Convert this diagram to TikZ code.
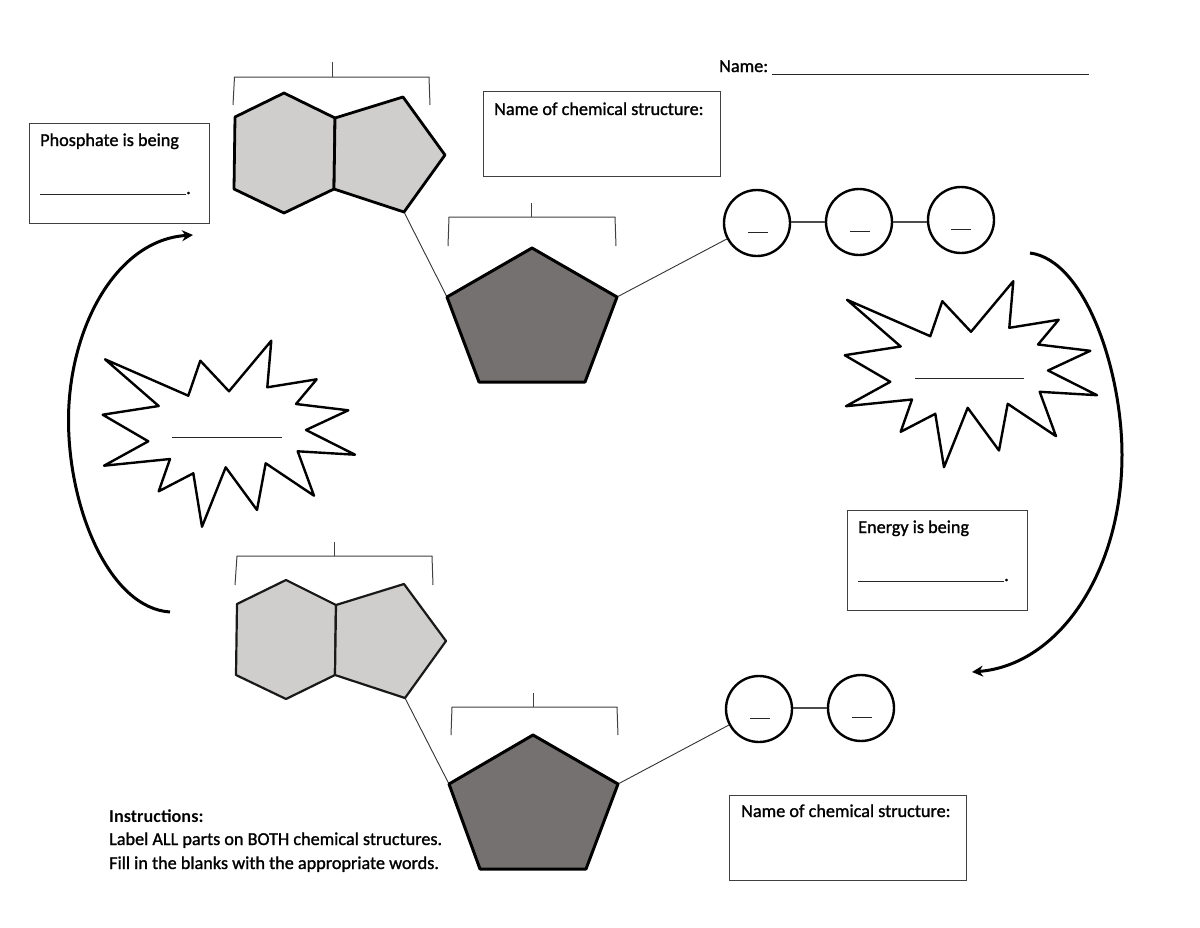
\documentclass[tikz,border=0pt]{standalone}
\usepackage{fontspec}
\setmainfont{Carlito}
\newfontface\semib{Carlito}[FakeBold=1.2]
\newfontface\instrb{Carlito Bold}
\definecolor{lightpart}{HTML}{CFCECC}
\definecolor{darkpart}{HTML}{767171}
\definecolor{rulegray}{HTML}{404040}
\usetikzlibrary{arrows.meta}
\tikzset{
  x=1pt,y=-1pt,
  labeltext/.style={anchor=base west,inner sep=0pt,font=\fontsize{18.2}{22}\selectfont\semib},
  boldtext/.style={anchor=base west,inner sep=0pt,font=\fontsize{18.2}{22}\selectfont\instrb},
  answerbox/.style={draw=rulegray,line width=0.9pt,fill=white,outer sep=0pt,inner sep=0pt,anchor=north west},
  ring/.style={draw=black,line width=2.8pt,line join=round,fill=lightpart},
  lowerring/.style={draw=black!90,line width=2.2pt,line join=round,fill=lightpart},
  sugar/.style={draw=black,line width=3pt,line join=round,fill=darkpart},
  bracketline/.style={draw=rulegray,line width=1pt},
  blank/.style={draw=black!85,line width=1pt},
  bond/.style={draw=black!80,line width=0.9pt},
  ballbond/.style={draw=black!70,line width=1.2pt},
  phosphate/.style={circle,draw=black,line width=2.4pt,minimum size=66pt,inner sep=0pt,fill=white},
  burstline/.style={draw=black,line width=2.4pt,line join=round,fill=white},
  cyclearrow/.style={draw=black,line width=3pt,-{Stealth[length=11pt,width=11pt]}},
}
\newcommand{\burstshape}[2]{%
  \draw[burstline,shift={(#1,#2)}]
   (45,29.3)--(128.3,65.7)--(140.3,30.7)--(169,61.3)--(211.3,10.7)--(207.3,57.3)--(256.7,49.3)--(236,74)--(288.3,80.3)--(246,100)--(295,124.7)--(237.7,121.3)--(254,165.7)--(205.7,133.3)--(197,180)--(165.7,137.3)--(142,196.7)--(133.3,143.3)--(98.7,161.3)--(110,129)--(44,135.7)--(88.3,111.3)--(42.7,84.7)--(98.7,76)--cycle;
}
\begin{document}
\begin{tikzpicture}
\useasboundingbox (0,0) rectangle (1200,927);
\fill[white] (0,0) rectangle (1200,927);
% answer boxes
\node[answerbox,minimum width=180pt,minimum height=100pt] (boxphos) at (29,123) {};
\node[answerbox,minimum width=237pt,minimum height=85pt] (boxtop) at (483,91) {};
\node[answerbox,minimum width=180pt,minimum height=100pt] (boxen) at (847,510) {};
\node[answerbox,minimum width=237pt,minimum height=85pt] (boxbot) at (729,795) {};
\node[labeltext] (tphos) at (40,146) {Phosphate is being};
\node[labeltext] (tdot1) at (186,194) {.};
\draw[blank] (40,194)--(186,194);
\node[labeltext] (ten) at (858,533) {Energy is being};
\node[labeltext] (tdot2) at (1004,581) {.};
\draw[blank] (858,581)--(1004,581);
\node[labeltext] (ttop) at (494,115) {Name of chemical structure:};
\node[labeltext] (tbot) at (741,817) {Name of chemical structure:};
\node[labeltext] (tname) at (719,72) {Name:};
\draw[blank] (772,74)--(1089,74);
\node[boldtext] (tin1) at (109,822) {Instructions:};
\node[labeltext] (tin2) at (109,845) {Label ALL parts on BOTH chemical structures.};
\node[labeltext] (tin3) at (109,869) {Fill in the blanks with the appropriate words.};
% upper molecule vertices
\coordinate (ua) at (235,117); \coordinate (ub) at (284,93); \coordinate (uc) at (335,118);
\coordinate (ud) at (334,189); \coordinate (ue) at (284,213); \coordinate (uf) at (234,189);
\coordinate (ug) at (403,97); \coordinate (uh) at (445,155); \coordinate (ui) at (404,212);
\coordinate (sa) at (532,248); \coordinate (sb) at (617,297); \coordinate (sc) at (585,382);
\coordinate (sd) at (479,382); \coordinate (se) at (447,297);
% lower molecule vertices
\coordinate (la) at (237,604); \coordinate (lb) at (286,580); \coordinate (lc) at (336,605);
\coordinate (ld) at (335,675); \coordinate (le) at (286,699); \coordinate (lf) at (236,675);
\coordinate (lg) at (404,584); \coordinate (lh) at (446,641); \coordinate (li) at (405,698);
\coordinate (ta) at (533,735); \coordinate (tb) at (618,784); \coordinate (tc) at (586,869);
\coordinate (td) at (480,869); \coordinate (te) at (449,784);
% circles
\node[phosphate] (p1) at (757,223) {};
\node[phosphate] (p2) at (859,222) {};
\node[phosphate] (p3) at (961,220) {};
\node[phosphate] (q1) at (759,709) {};
\node[phosphate] (q2) at (861,708) {};
% connectors
\draw[bond] (ui)--(se);
\draw[bond] (sb)--(p1);
\draw[ballbond] (p1.east |- p2.west)--(p2.west);
\draw[ballbond] (p2.east)--(p2.east -| p3.west);
\draw[bond] (li)--(te);
\draw[bond] (tb)--(q1);
\draw[ballbond] (q1.east |- q2.west)--(q2.west);
% rings
\draw[ring] (ua)--(ub)--(uc)--(ud)--(ue)--(uf)--cycle;
\draw[ring] (uc)--(ug)--(uh)--(ui)--(ud)--cycle;
\draw[sugar] (sa)--(sb)--(sc)--(sd)--(se)--cycle;
\draw[lowerring] (la)--(lb)--(lc)--(ld)--(le)--(lf)--cycle;
\draw[lowerring] (lc)--(lg)--(lh)--(li)--(ld)--cycle;
\draw[sugar] (ta)--(tb)--(tc)--(td)--(te)--cycle;
% brackets
\draw[bracketline] (233,105)--(234.5,77)--(429,77)--(430,105);
\draw[bracketline] (332,62)--(332,77);
\draw[bracketline] (448,246)--(449,217)--(615,217)--(616,246);
\draw[bracketline] (531,203)--(531,217);
\draw[bracketline] (235,585)--(237,556)--(432,556)--(433,585);
\draw[bracketline] (334,542)--(334,556);
\draw[bracketline] (451,735)--(452,707)--(617,707)--(618,735);
\draw[bracketline] (533,693)--(533,707);
% blanks in circles
\draw[blank] (748,232)--(768,232);
\draw[blank] (850,231)--(870,231);
\draw[blank] (951,229)--(971,229);
\draw[blank] (750,718)--(770,718);
\draw[blank] (852,717)--(872,717);
% bursts
\burstshape{60}{330}
\burstshape{802}{270.5}
\draw[blank] (172,437)--(282,437);
\draw[blank] (915,378)--(1024,378);
% arrows
\coordinate (al) at (170,612); \coordinate (am) at (68.5,420); \coordinate (an) at (193,235);
\coordinate (bl) at (1030,253); \coordinate (bm) at (1122,455); \coordinate (bn) at (972,672);
\draw[cyclearrow] (al) .. controls (110,608) and (68.5,510) .. (am) .. controls (68.5,330) and (115,240) .. (an);
\draw[cyclearrow] (bl) .. controls (1085,260) and (1122,370) .. (bm) .. controls (1122,570) and (1060,665) .. (bn);
\end{tikzpicture}
\end{document}
